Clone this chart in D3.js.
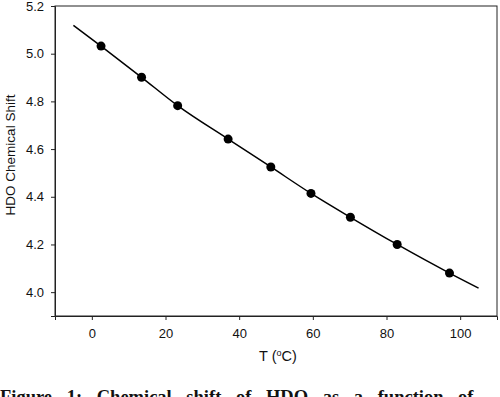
<!DOCTYPE html>
<meta charset="utf-8">
<script src="https://d3js.org/d3.v7.min.js"></script>
<style>
  body { margin: 0; background: #fff; }
  svg { display: block; font-family: "Liberation Sans", Arial, sans-serif; }
  .tick text { font-size: 13px; fill: #111; }
</style>
<div id="chart"></div>
<script>
  // measured points
  var temps = [2.5, 13.5, 23.3, 37.0, 48.6, 59.5, 70.2, 82.9, 97.1];
  var shifts = [5.032, 4.901, 4.782, 4.642, 4.525, 4.414, 4.314, 4.200, 4.080];

  // fitted curve
  var fitT = [-5, 2.5, 13.5, 23.3, 37.0, 48.6, 59.5, 70.2, 82.9, 97.1, 105];
  var fitShift = [5.119, 5.032, 4.901, 4.782, 4.642, 4.525, 4.414, 4.314, 4.200, 4.080, 4.017];

  var xTicks = [0, 20, 40, 60, 80, 100];
  var yTicks = [4.0, 4.2, 4.4, 4.6, 4.8, 5.0, 5.2];

  var width = 500, height = 397;
  var margin = { top: 6, right: 3, bottom: 81, left: 55 };

  var svg = d3.select("#chart").append("svg")
    .attr("width", width)
    .attr("height", height);

  var x = d3.scaleLinear().domain([-10, 110]).range([margin.left, width - margin.right]);
  var y = d3.scaleLinear().domain([3.9, 5.2]).range([height - margin.bottom, margin.top]);

  // frame
  svg.append("rect")
    .attr("x", margin.left)
    .attr("y", margin.top)
    .attr("width", width - margin.right - margin.left)
    .attr("height", height - margin.bottom - margin.top)
    .attr("fill", "none")
    .attr("stroke", "#222")
    .attr("stroke-width", 1);

  svg.append("g")
    .attr("transform", "translate(0," + (height - margin.bottom) + ")")
    .call(d3.axisBottom(x).tickValues(xTicks).tickSize(4).tickPadding(9).tickFormat(d3.format("d")))
    .attr("font-size", null)
    .attr("font-family", null);

  svg.append("g")
    .attr("transform", "translate(" + margin.left + ",0)")
    .call(d3.axisLeft(y).tickValues(yTicks).tickSize(4).tickPadding(7).tickFormat(d3.format(".1f")))
    .attr("font-size", null)
    .attr("font-family", null);

  svg.selectAll(".domain").attr("stroke", "#222");
  svg.selectAll(".tick line").attr("stroke", "#222");

  // fit line
  var fit = fitT.map(function (t, i) { return [t, fitShift[i]]; });
  svg.append("path")
    .datum(fit)
    .attr("fill", "none")
    .attr("stroke", "#000")
    .attr("stroke-width", 1.5)
    .attr("d", d3.line()
      .x(function (d) { return x(d[0]); })
      .y(function (d) { return y(d[1]); })
      .curve(d3.curveMonotoneX));

  // points
  svg.selectAll("circle.pt")
    .data(temps)
    .enter()
    .append("circle")
    .attr("class", "pt")
    .attr("cx", function (d) { return x(d); })
    .attr("cy", function (d, i) { return y(shifts[i]); })
    .attr("r", 4.5)
    .attr("fill", "#000");

  // axis titles
  var xt = svg.append("text")
    .attr("x", 278)
    .attr("y", 361)
    .attr("text-anchor", "middle")
    .style("font-size", "14.5px")
    .style("fill", "#111");
  xt.append("tspan").text("T (");
  xt.append("tspan").attr("dy", -5).style("font-size", "9px").text("o");
  xt.append("tspan").attr("dy", 5).text("C)");

  svg.append("text")
    .attr("transform", "translate(15,155) rotate(-90)")
    .attr("text-anchor", "middle")
    .style("font-size", "13.5px")
    .style("fill", "#111")
    .text("HDO Chemical Shift");

  // caption, cut off by the picture edge
  svg.append("text")
    .attr("x", 0)
    .attr("y", 403)
    .style("font-family", "'Liberation Serif', 'Times New Roman', serif")
    .style("font-weight", "bold")
    .style("font-size", "18.5px")
    .style("word-spacing", "10px")
    .style("fill", "#111")
    .text("Figure 1:  Chemical shift of HDO as a function of");
</script>
